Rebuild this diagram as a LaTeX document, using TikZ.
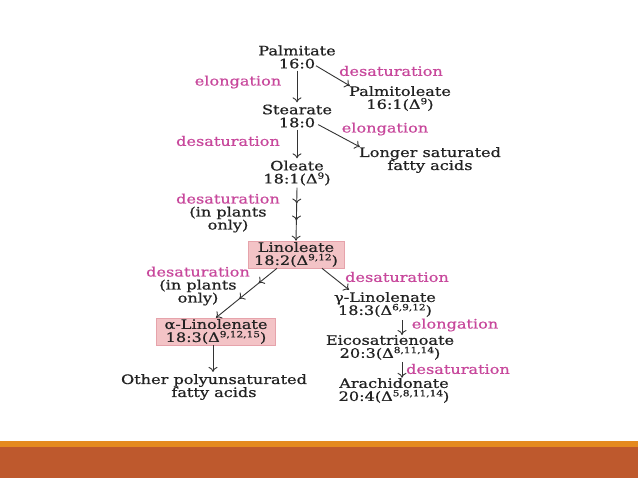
\documentclass[tikz,border=0pt]{standalone}
\usepackage{fontspec}
\setmainfont{DejaVu Serif}[FakeStretch=1.24,FakeBold=0.7]
\usetikzlibrary{arrows.meta,decorations.markings,calc}
\definecolor{pinkc}{HTML}{C8489C}
\definecolor{txtc}{HTML}{222222}
\definecolor{boxc}{HTML}{F3C3C6}
\definecolor{boxd}{HTML}{E6A3AB}
\definecolor{arrc}{HTML}{333333}
\definecolor{orgc}{HTML}{E58A1F}
\definecolor{brnc}{HTML}{BE592D}
\newcommand\spx[1]{\raisebox{0.36em}[0pt][0pt]{\fontsize{8.5}{8.5}\selectfont #1}}
\newcommand\mainfs{\fontsize{13}{13}\selectfont}
\begin{document}
\begin{tikzpicture}[x=1pt,y=-1pt,
  txt/.style={align=center,inner sep=0pt,text=txtc,font=\mainfs},
  lab/.style={inner sep=0pt,text=pinkc,font=\mainfs},
  hbox/.style={txt,fill=boxc,draw=boxd,line width=0.6pt,minimum width=#1,minimum height=27pt},
  tip/.tip={Computer Modern Rightarrow[length=5pt,width=9pt,line width=0.9pt]},
  arr/.style={draw=arrc,line width=0.9pt,-tip},
  multiarr/.style={draw=arrc,line width=0.9pt,-tip,postaction={decorate},
    decoration={markings,
      mark=at position 0.3 with {\arrow{tip}},
      mark=at position 0.62 with {\arrow{tip}}}}
]
\useasboundingbox (0,0) rectangle (638,478);
\fill[white] (0,0) rectangle (638,478);
% bottom bar
\fill[orgc] (0,441) rectangle (638,447);
\fill[brnc] (0,447) rectangle (638,478);

% nodes
\node[txt] (palm) at (297,57) {Palmitate\\16:0};
\node[txt] (ptole) at (400,98.5) {Palmitoleate\\16:1(Δ\spx{9})};
\node[txt] (stear) at (297,116) {Stearate\\18:0};
\node[txt] (longer) at (430,160) {Longer saturated\\fatty acids};
\node[txt] (oleate) at (297,173) {Oleate\\18:1(Δ\spx{9})};
\node[hbox=96pt] (lino) at (296,254.5) {Linoleate\\18:2(Δ\spx{9,12})};
\node[txt] (gamma) at (385,304.5) {γ-Linolenate\\18:3(Δ\spx{6,9,12})};
\node[hbox=119pt] (alpha) at (216,331.5) {α-Linolenate\\18:3(Δ\spx{9,12,15})};
\node[txt] (other) at (214,387) {Other polyunsaturated\\fatty acids};
\node[txt] (eicosa) at (390,347.5) {Eicosatrienoate\\20:3(Δ\spx{8,11,14})};
\node[txt] (arach) at (394,390.5) {Arachidonate\\20:4(Δ\spx{5,8,11,14})};

% labels
\node[lab] (l1) at (238,82) {elongation};
\node[lab] (l2) at (391,71) {desaturation};
\node[lab] (l3) at (385,129) {elongation};
\node[lab] (l4) at (228,141) {desaturation};
\node[txt] (l5) at (228,213) {{\color{pinkc}desaturation}\\(in plants\\only)};
\node[txt] (l6) at (198,286) {{\color{pinkc}desaturation}\\(in plants\\only)};
\node[lab] (l7) at (397,277) {desaturation};
\node[lab] (l8) at (455,325) {elongation};
\node[lab] (l9) at (458,369) {desaturation};

% connectors
\draw[arr] ([yshift=-2pt]palm.south) -- ([yshift=2pt]stear.north);
\draw[arr] ([xshift=-20pt,yshift=3pt]palm.south east) -- ([xshift=1pt,yshift=0pt]ptole.north west);
\draw[arr] ([yshift=-2pt]stear.south) -- ([yshift=2pt]oleate.north);
\draw[arr] ([xshift=-14pt,yshift=3pt]stear.south east) -- ([xshift=1pt,yshift=0pt]longer.north west);
\draw[multiarr] ([yshift=-2pt]oleate.south) -- (lino.north);
\draw[multiarr] ([xshift=-19pt]lino.south) -- (alpha.north);
\draw[arr] ([xshift=26pt]lino.south) -- ([xshift=-36pt,yshift=2pt]gamma.north);
\draw[arr] ([xshift=17pt,yshift=-3pt]gamma.south) -- ([xshift=12pt,yshift=0pt]eicosa.north);
\draw[arr] ([xshift=12pt,yshift=-2pt]eicosa.south) -- ([xshift=8pt,yshift=0pt]arach.north);
\draw[arr] ([xshift=-3pt]alpha.south) -- ([xshift=-1pt,yshift=2pt]other.north);
\end{tikzpicture}
\end{document}
